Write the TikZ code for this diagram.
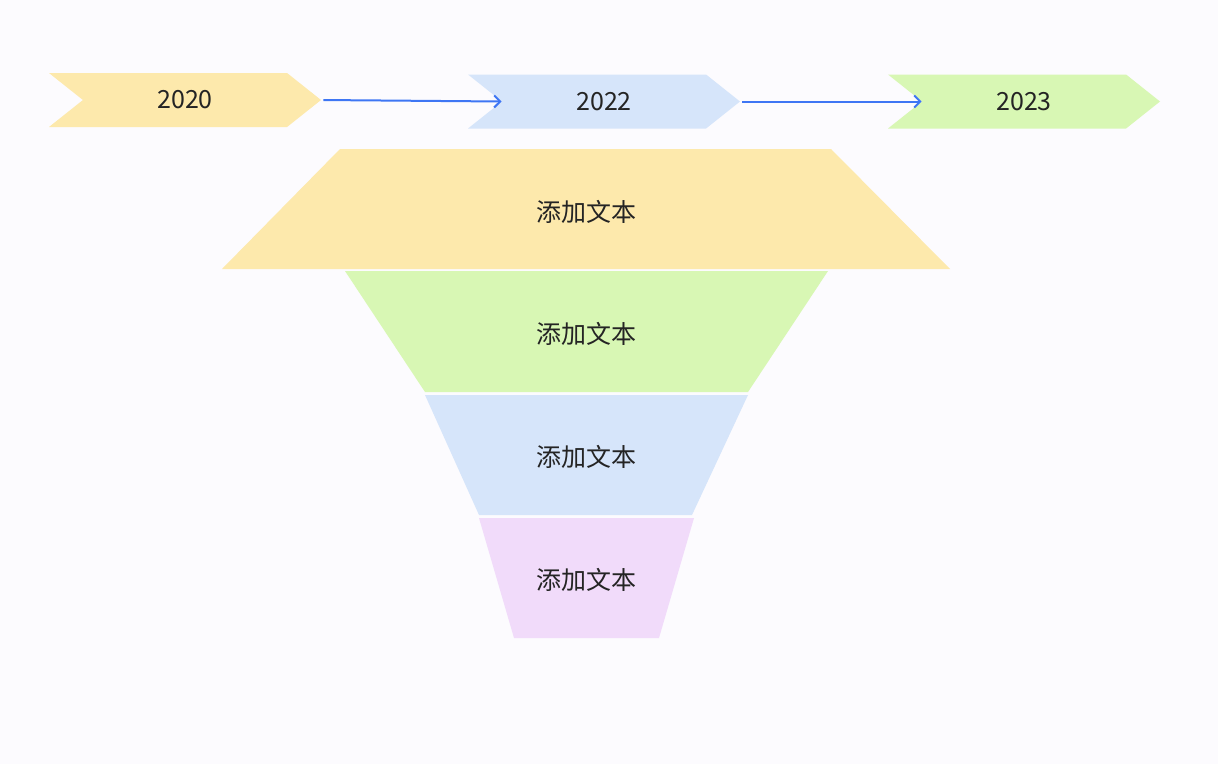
\documentclass[tikz,border=0pt]{standalone}
\usepackage{fontspec}
\setmainfont{Noto Sans CJK SC}
\usetikzlibrary{shapes.symbols,arrows.meta}
\definecolor{bgcol}{RGB}{252,251,254}
\definecolor{textcol}{RGB}{36,36,36}
\definecolor{arrowcol}{RGB}{62,118,244}
\definecolor{yellowfill}{RGB}{253,233,172}
\definecolor{greenfill}{RGB}{216,247,180}
\definecolor{bluefill}{RGB}{214,229,250}
\definecolor{pinkfill}{RGB}{241,219,250}
\tikzset{
  yearbox/.style={signal, signal from=west, signal to=east, signal pointer angle=77,
    minimum width=272pt, minimum height=54pt, inner sep=0pt,
    font=\fontsize{25}{29}\selectfont, text=textcol},
  yeararrow/.style={draw=arrowcol, line width=2pt, shorten <=2pt,
    -{Straight Barb[length=6pt,width=12pt]}},
  stagetext/.style={font=\fontsize{25}{29}\selectfont, text=textcol}
}

\begin{document}
\begin{tikzpicture}[x=1pt,y=-1pt]
\fill[bgcol] (0,0) rectangle (1218,764);
\useasboundingbox (0,0) rectangle (1218,764);
\node[yearbox, fill=yellowfill] (y2020) at (185,100) {2020};
\node[yearbox, fill=bluefill] (y2022) at (604,101.5) {2022};
\node[yearbox, fill=greenfill] (y2023) at (1024,101.5) {2023};
\draw[yeararrow] (y2020.east) -- (y2022.west);
\draw[yeararrow] (y2022.east) -- (y2023.west);
\fill[yellowfill] (340,149) -- (831,149) -- (950,269) -- (222,269) -- cycle;
\fill[greenfill] (345,271) -- (828,271) -- (748,392) -- (425,392) -- cycle;
\fill[bluefill] (425,395) -- (748,395) -- (692,515) -- (479,515) -- cycle;
\fill[pinkfill] (479,518) -- (694,518) -- (659,638) -- (514,638) -- cycle;
\node[stagetext] (stage1) at (586,212) {添加文本};
\node[stagetext] (stage2) at (586,334) {添加文本};
\node[stagetext] (stage3) at (586,457) {添加文本};
\node[stagetext] (stage4) at (586,580) {添加文本};
\end{tikzpicture}
\end{document}
